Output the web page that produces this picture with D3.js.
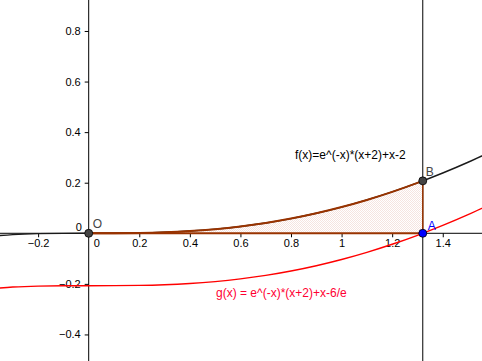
<!DOCTYPE html>
<html><head><meta charset="utf-8">
<script src="https://cdn.jsdelivr.net/npm/d3@7"></script>
<style>html,body{margin:0;padding:0;background:#fff;}svg{display:block;}</style>
</head><body><svg id="c" width="482" height="361"></svg>
<script>
// sample points
const xs = [-0.4,-0.3,-0.2,-0.1,0,0.1,0.2,0.3,0.4,0.5,0.6,0.7,0.8,0.9,1.0,1.1,1.2,1.3,1.4,1.5,1.6];
const fVals = [-0.01308,-0.00524,-0.00148,-0.00018,0,0.00016,0.00121,0.00388,0.00877,0.01633,0.02691,0.04078,0.05812,0.07905,0.10364,0.13190,0.16382,0.19936,0.23843,0.28096,0.32683];
const gVals = [-0.22036,-0.21252,-0.20876,-0.20746,-0.20728,-0.20712,-0.20607,-0.20340,-0.19851,-0.19095,-0.18037,-0.16650,-0.14916,-0.12822,-0.10364,-0.07538,-0.04346,-0.00792,0.03115,0.07368,0.11955];
const xTicks = [-0.2,0.2,0.4,0.6,0.8,1,1.2,1.4];
const yTicks = [-0.4,-0.2,0.2,0.4,0.6,0.8];
const pointO = {x:0, y:0, label:"O"};
const pointA = {x:1.321, y:0, label:"A"};
const pointB = {x:1.321, y:0.2073, label:"B"};
const fLabel = "f(x)=e^(-x)*(x+2)+x-2";
const gLabel = "g(x) = e^(-x)*(x+2)+x-6/e";

const W=482,H=361;
const x = d3.scaleLinear().domain([-0.3507,1.5552]).range([0,W]);
const y = d3.scaleLinear().domain([-0.505,0.9225]).range([H,0]);
const svg = d3.select("#c");
const font = "'Liberation Sans', Arial, sans-serif";

// pattern fill
const defs = svg.append("defs");
const pat = defs.append("pattern").attr("id","dith").attr("width",2).attr("height",2).attr("patternUnits","userSpaceOnUse");
pat.append("rect").attr("width",2).attr("height",2).attr("fill","#ffffff");
pat.append("rect").attr("width",1).attr("height",1).attr("fill","#f6e4e0");
pat.append("rect").attr("x",1).attr("y",1).attr("width",1).attr("height",1).attr("fill","#f6e4e0");

const pts = xs.map((v,i)=>({x:v,f:fVals[i],g:gVals[i]}));
const fLine = d3.line().x(d=>x(d.x)).y(d=>y(d.f)).curve(d3.curveNatural);
const gLine = d3.line().x(d=>x(d.x)).y(d=>y(d.g)).curve(d3.curveNatural);

// axes
const x0 = x(0), y0 = y(0);
svg.append("line").attr("x1",0).attr("x2",W).attr("y1",y0).attr("y2",y0).attr("stroke","#000").attr("stroke-width",1);
svg.append("line").attr("x1",x0).attr("x2",x0).attr("y1",0).attr("y2",H).attr("stroke","#000").attr("stroke-width",1);

const xAxis = d3.axisBottom(x).tickValues(xTicks).tickSize(4).tickFormat(d3.format("")).tickSizeOuter(0);
const gx = svg.append("g").attr("transform",`translate(0,${y0})`).call(xAxis);
gx.select(".domain").remove();
gx.selectAll("text").attr("font-family",font).attr("font-size",11).attr("fill","#000").attr("dy","0.95em").attr("y",3);
const yAxis = d3.axisLeft(y).tickValues(yTicks).tickSize(4).tickFormat(d3.format("")).tickSizeOuter(0);
const gy = svg.append("g").attr("transform",`translate(${x0},0)`).call(yAxis);
gy.select(".domain").remove();
gy.selectAll("text").attr("font-family",font).attr("font-size",11).attr("fill","#000").attr("x",-8);
svg.append("text").attr("x",x0-10).attr("y",y0-2).attr("text-anchor","middle").attr("font-family",font).attr("font-size",11).text("0");
svg.append("text").attr("x",x0+8).attr("y",y0+14).attr("text-anchor","middle").attr("font-family",font).attr("font-size",11).text("0");

// vertical line at A
svg.append("line").attr("x1",x(pointA.x)).attr("x2",x(pointA.x)).attr("y1",0).attr("y2",H).attr("stroke","#000").attr("stroke-width",1);

// filled area under f from 0 to A
const clipX = [0, pointA.x];
defs.append("clipPath").attr("id","clipR").append("rect").attr("x",x(clipX[0])).attr("y",0).attr("width",x(clipX[1])-x(clipX[0])).attr("height",H);
const fullArea = d3.area().x(d=>x(d.x)).y0(y(0)).y1(d=>y(d.f)).curve(d3.curveNatural);
svg.append("path").datum(pts).attr("d",fullArea).attr("fill","url(#dith)").attr("clip-path","url(#clipR)");

// f curve (black) and brown part inside region
svg.append("path").datum(pts).attr("d",fLine).attr("fill","none").attr("stroke","#1a1a1a").attr("stroke-width",1.4);
svg.append("path").datum(pts).attr("d",fLine).attr("fill","none").attr("stroke","#993300").attr("stroke-width",2).attr("clip-path","url(#clipR)");
// region outline (bottom + right side)
svg.append("line").attr("x1",x(0)).attr("x2",x(pointA.x)).attr("y1",y0).attr("y2",y0).attr("stroke","#993300").attr("stroke-width",2);
svg.append("line").attr("x1",x(pointA.x)).attr("x2",x(pointA.x)).attr("y1",y0).attr("y2",y(pointB.y)).attr("stroke","#993300").attr("stroke-width",1.5);

// g curve
svg.append("path").datum(pts).attr("d",gLine).attr("fill","none").attr("stroke","#ff0000").attr("stroke-width",1.4);

// points
function pt(p,fill){
  svg.append("circle").attr("cx",x(p.x)).attr("cy",y(p.y)).attr("r",4).attr("fill",fill).attr("stroke","#000").attr("stroke-width",0.8);
}
pt(pointO,"#444444"); pt(pointB,"#444444"); pt(pointA,"#0000ff");
svg.append("text").attr("x",x(pointO.x)+4).attr("y",y(pointO.y)-5).attr("font-family",font).attr("font-size",12).attr("fill","#444").text(pointO.label);
svg.append("text").attr("x",x(pointB.x)+3).attr("y",y(pointB.y)-5).attr("font-family",font).attr("font-size",12).attr("fill","#444").text(pointB.label);
svg.append("text").attr("x",x(pointA.x)+5).attr("y",y(pointA.y)-3).attr("font-family",font).attr("font-size",12).attr("fill","#0000ff").text(pointA.label);

// function labels
svg.append("text").attr("x",295).attr("y",159).attr("font-family",font).attr("font-size",12).attr("fill","#000").text(fLabel);
svg.append("text").attr("x",216).attr("y",297).attr("font-family",font).attr("font-size",12).attr("fill","#ff0033").text(gLabel);
</script></body></html>
